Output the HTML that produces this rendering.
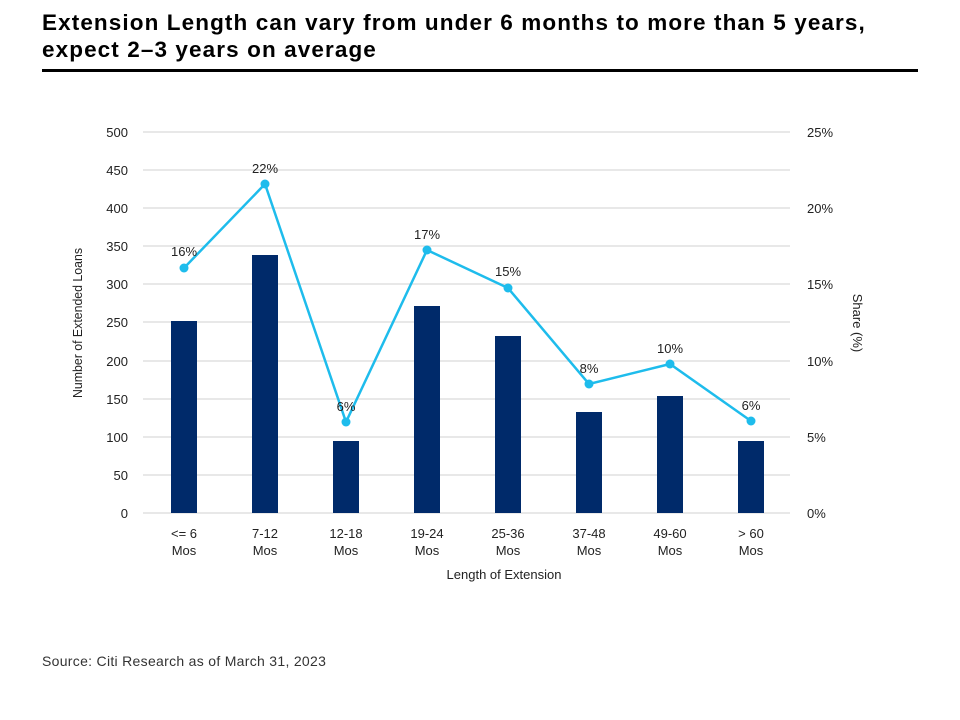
<!DOCTYPE html>
<html><head><style>
body{margin:0;width:960px;height:720px;background:#fff;overflow:hidden;font-family:"Liberation Sans",sans-serif}
.t{position:absolute;left:42px;top:9px;font-size:22.5px;font-weight:bold;line-height:27px;color:#000;letter-spacing:1.1px;white-space:nowrap}
.rule{position:absolute;left:42px;top:69px;width:876px;height:3px;background:#000}
.src{position:absolute;left:42px;top:653px;font-size:14px;color:#333;letter-spacing:0.3px}
</style></head><body>
<div class="t">Extension Length can vary from under 6 months to more than 5 years,<br>expect 2–3 years on average</div>
<div class="rule"></div>
<svg width="960" height="720" style="position:absolute;left:0;top:0" font-family="Liberation Sans, sans-serif">
<g stroke="#e0e0e0" stroke-width="1.5">
<line x1="143" x2="790" y1="132" y2="132"/><line x1="143" x2="790" y1="170" y2="170"/><line x1="143" x2="790" y1="208" y2="208"/><line x1="143" x2="790" y1="246" y2="246"/><line x1="143" x2="790" y1="284" y2="284"/><line x1="143" x2="790" y1="322" y2="322"/><line x1="143" x2="790" y1="361" y2="361"/><line x1="143" x2="790" y1="399" y2="399"/><line x1="143" x2="790" y1="437" y2="437"/><line x1="143" x2="790" y1="475" y2="475"/><line x1="143" x2="790" y1="513" y2="513"/>
</g>
<g font-size="13" fill="#222" text-anchor="end">
<text x="128" y="137">500</text><text x="128" y="175">450</text><text x="128" y="213">400</text><text x="128" y="251">350</text><text x="128" y="289">300</text><text x="128" y="327">250</text><text x="128" y="366">200</text><text x="128" y="404">150</text><text x="128" y="442">100</text><text x="128" y="480">50</text><text x="128" y="518">0</text>
</g>
<g font-size="13" fill="#222">
<text x="807" y="137">25%</text><text x="807" y="213">20%</text><text x="807" y="289">15%</text><text x="807" y="366">10%</text><text x="807" y="442">5%</text><text x="807" y="518">0%</text>
</g>
<text transform="translate(82,323) rotate(-90)" font-size="13" fill="#222" text-anchor="middle" textLength="150" lengthAdjust="spacingAndGlyphs">Number of Extended Loans</text>
<text transform="translate(853,323) rotate(90)" font-size="13" fill="#222" text-anchor="middle">Share (%)</text>
<g fill="#002a6a">
<rect x="171" y="321" width="26" height="192"/><rect x="252" y="255" width="26" height="258"/><rect x="333" y="441" width="26" height="72"/><rect x="414" y="306" width="26" height="207"/><rect x="495" y="336" width="26" height="177"/><rect x="576" y="412" width="26" height="101"/><rect x="657" y="396" width="26" height="117"/><rect x="738" y="441" width="26" height="72"/>
</g>
<polyline fill="none" stroke="#1ebcec" stroke-width="2.5" points="184,268 265,184 346,422 427,250 508,288 589,384 670,364 751,421"/>
<g fill="#1ebcec">
<circle cx="184" cy="268" r="4.5"/><circle cx="265" cy="184" r="4.5"/><circle cx="346" cy="422" r="4.5"/><circle cx="427" cy="250" r="4.5"/><circle cx="508" cy="288" r="4.5"/><circle cx="589" cy="384" r="4.5"/><circle cx="670" cy="364" r="4.5"/><circle cx="751" cy="421" r="4.5"/>
</g>
<g font-size="13" fill="#222" text-anchor="middle">
<text x="184" y="256">16%</text><text x="265" y="173">22%</text><text x="346" y="411">6%</text><text x="427" y="239">17%</text><text x="508" y="276">15%</text><text x="589" y="373">8%</text><text x="670" y="353">10%</text><text x="751" y="410">6%</text>
<text x="184" y="538">&lt;= 6</text><text x="184" y="555">Mos</text>
<text x="265" y="538">7-12</text><text x="265" y="555">Mos</text>
<text x="346" y="538">12-18</text><text x="346" y="555">Mos</text>
<text x="427" y="538">19-24</text><text x="427" y="555">Mos</text>
<text x="508" y="538">25-36</text><text x="508" y="555">Mos</text>
<text x="589" y="538">37-48</text><text x="589" y="555">Mos</text>
<text x="670" y="538">49-60</text><text x="670" y="555">Mos</text>
<text x="751" y="538">&gt; 60</text><text x="751" y="555">Mos</text>
<text x="504" y="579">Length of Extension</text>
</g>
</svg>
<div class="src">Source: Citi Research as of March 31, 2023</div>
</body></html>
